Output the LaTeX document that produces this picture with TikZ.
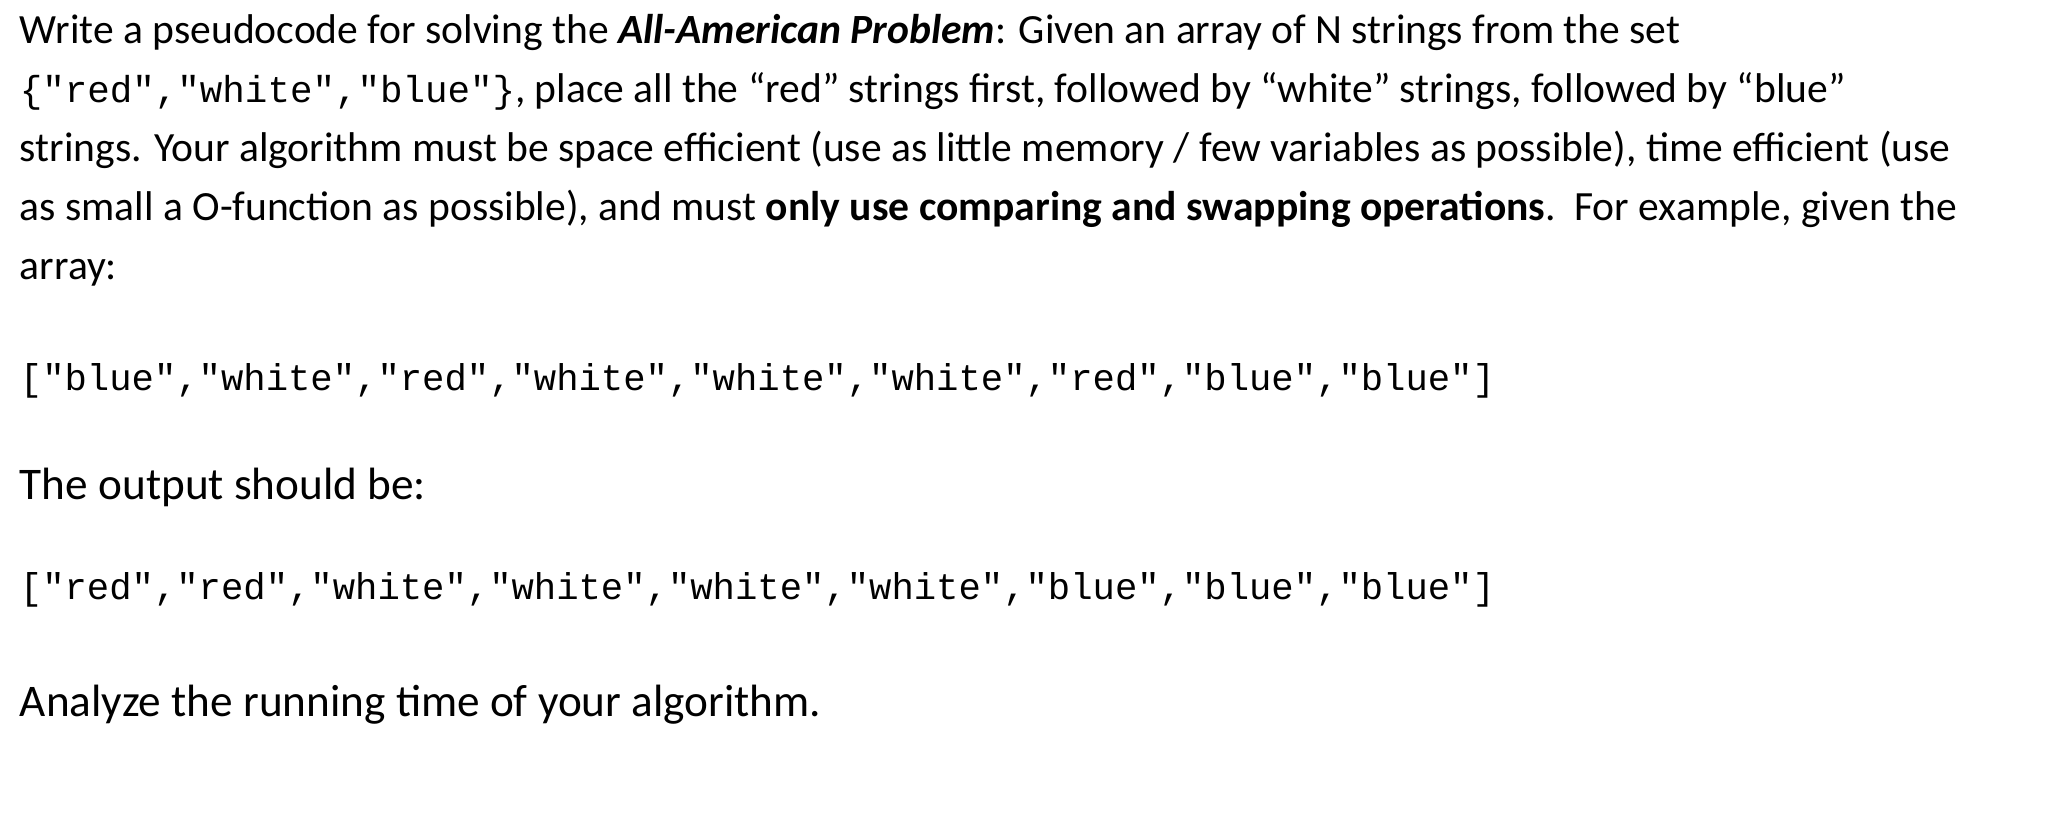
\documentclass[tikz,border=0pt]{standalone}
\usepackage{fontspec}
\setmainfont{Carlito}
\setmonofont{Liberation Mono}
\begin{document}
\begin{tikzpicture}[x=1pt,y=-1pt,
  txt/.style={anchor=base west,inner sep=0pt,font=\fontsize{31.7}{36}\selectfont},
  big/.style={anchor=base west,inner sep=0pt,font=\fontsize{34.5}{40}\selectfont},
  mono/.style={anchor=base west,inner sep=0pt,font=\fontsize{28.4}{32}\selectfont\ttfamily}]
\fill[white] (0,0) rectangle (1560,620);
\node[txt] (l1) at (15,33) {Write a pseudocode for solving the \textbf{\textit{All-American Problem}}: Given an array of N strings from the set};
\node[txt] (l2) at (15,78) {{\fontsize{28.6}{32}\selectfont\ttfamily\{"red","white","blue"\}}, place all the “red” strings first, followed by “white” strings, followed by “blue”};
\node[txt] (l3) at (15,123) {strings. Your algorithm must be space efficient (use as little memory / few variables as possible), time efficient (use};
\node[txt] (l4) at (15,168) {as small a O-function as possible), and must \textbf{only use comparing and swapping operations}.\ \ For example, given the};
\node[txt] (l5) at (15,213) {array:};
\node[mono] (a1) at (15,298) {["blue","white","red","white","white","white","red","blue","blue"]};
\node[big] (o) at (15,381) {The output should be:};
\node[mono] (a2) at (15,457) {["red","red","white","white","white","white","blue","blue","blue"]};
\node[big] (an) at (15,546) {Analyze the running time of your algorithm.};
\end{tikzpicture}
\end{document}
